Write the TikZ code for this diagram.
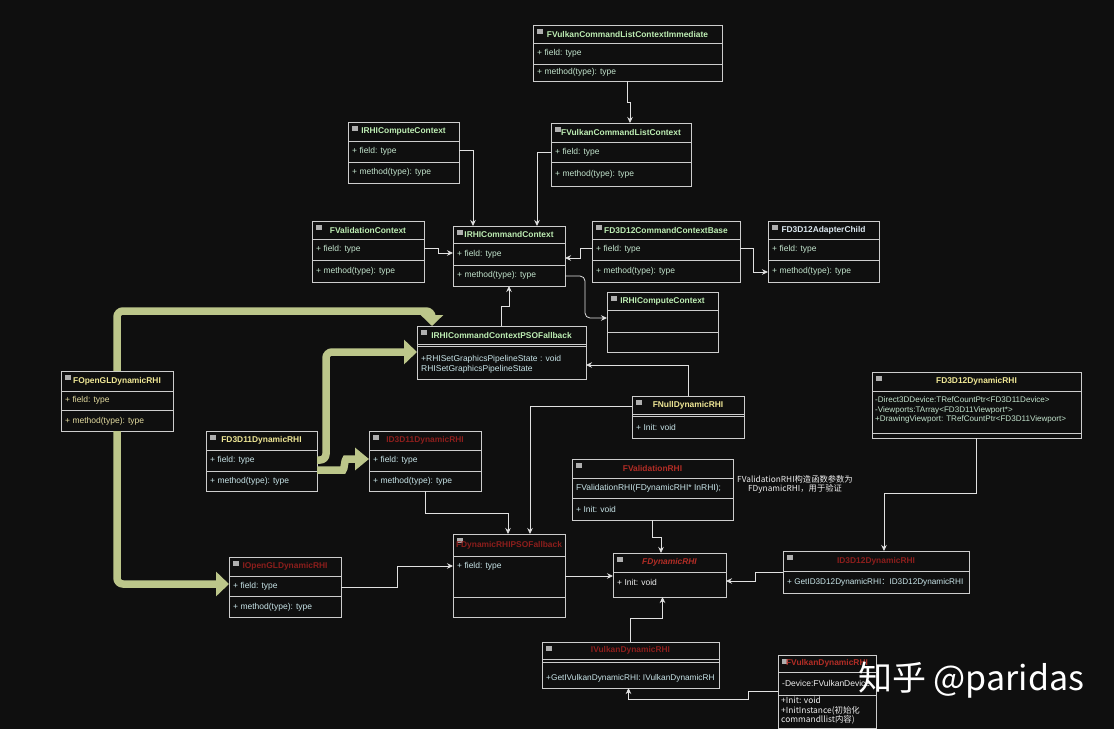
\documentclass[tikz,border=0pt]{standalone}
\usepackage{fontspec}
\setmainfont{Liberation Sans}
\newfontfamily\cjk{Noto Sans CJK SC}
\usetikzlibrary{arrows.meta,calc}
\definecolor{bg}{RGB}{15,15,15}
\definecolor{boxc}{RGB}{205,205,205}
\definecolor{iconc}{RGB}{175,175,175}
\definecolor{linec}{RGB}{225,225,225}
\definecolor{fatc}{RGB}{188,198,138}
\definecolor{gttl}{RGB}{190,238,180}
\definecolor{gtxt}{RGB}{195,228,205}
\definecolor{wttl}{RGB}{220,232,240}
\definecolor{yttl}{RGB}{240,232,150}
\definecolor{ytxt}{RGB}{228,220,160}
\definecolor{ctxt}{RGB}{200,228,232}
\definecolor{rttl}{RGB}{140,30,28}
\definecolor{rttlb}{RGB}{178,45,38}
\definecolor{wtxt}{RGB}{238,238,238}
\newcommand\ubox[5]{%
  \node[clsbox, minimum width=#4pt, minimum height=#5pt, anchor=north west] (#1) at (#2,#3) {};
  \fill[iconc] ($(#1.north west)+(4,3.5)$) rectangle ++(6,5.5);}
\newcommand\usep[2]{\draw[sepl] ($(#1.north west)+(0,#2)$) -- ($(#1.north east)+(0,#2)$);}
\newcommand\uttl[4]{\node[ttl, text=#3] (#1-t) at ($(#1.north)+(0,#2)$) {#4};}
\newcommand\utxt[5]{\node[txt, text=#4] (#1-#2) at ($(#1.north west)+(4,#3)$) {#5};}
\begin{document}
\begin{tikzpicture}[x=1pt,y=-1pt,
  clsbox/.style={draw=boxc, line width=0.9pt, inner sep=0pt, outer sep=0pt},
  sepl/.style={draw=boxc, line width=0.9pt},
  ttl/.style={font=\fontsize{8.4}{9.5}\selectfont\bfseries, inner sep=0pt},
  txt/.style={font=\fontsize{8.5}{10}\selectfont, inner sep=0pt, anchor=west, align=left},
  conn/.style={draw=linec, line width=0.8pt, -{Stealth[length=6pt,width=5.5pt]}},
  fat/.style={draw=fatc, line width=7.5pt, rounded corners=6pt}]
\useasboundingbox (0,0) rectangle (1114,729);
\fill[bg] (0,0) rectangle (1114,729);

% ---------- classes ----------
\ubox{vkimm}{533}{25}{189}{56}
\usep{vkimm}{18}\usep{vkimm}{39}
\uttl{vkimm}{9}{gttl}{FVulkanCommandListContextImmediate}
\utxt{vkimm}{a}{28.5}{gtxt}{+ field: type}
\utxt{vkimm}{b}{47.5}{gtxt}{+ method(type): type}

\ubox{vkctx}{551}{123}{140}{63}
\usep{vkctx}{19}\usep{vkctx}{39}
\uttl{vkctx}{9.5}{gttl}{FVulkanCommandListContext}
\utxt{vkctx}{a}{29}{gtxt}{+ field: type}
\utxt{vkctx}{b}{51}{gtxt}{+ method(type): type}

\ubox{ccA}{348}{122}{111}{61}
\usep{ccA}{19}\usep{ccA}{40}
\uttl{ccA}{9.5}{gttl}{IRHIComputeContext}
\utxt{ccA}{a}{29.5}{gtxt}{+ field: type}
\utxt{ccA}{b}{50.5}{gtxt}{+ method(type): type}

\ubox{valctx}{312}{221}{112}{61}
\usep{valctx}{18}\usep{valctx}{39}
\uttl{valctx}{9}{gttl}{FValidationContext}
\utxt{valctx}{a}{28.5}{gtxt}{+ field: type}
\utxt{valctx}{b}{50}{gtxt}{+ method(type): type}

\ubox{cmd}{453}{226}{112}{60}
\usep{cmd}{17}\usep{cmd}{39}
\uttl{cmd}{8.5}{gttl}{IRHICommandContext}
\utxt{cmd}{a}{28}{gtxt}{+ field: type}
\utxt{cmd}{b}{49.5}{gtxt}{+ method(type): type}

\ubox{dbase}{592}{221}{148}{61}
\usep{dbase}{18}\usep{dbase}{39}
\uttl{dbase}{9}{gttl}{FD3D12CommandContextBase}
\utxt{dbase}{a}{28.5}{gtxt}{+ field: type}
\utxt{dbase}{b}{50}{gtxt}{+ method(type): type}

\ubox{adapter}{768}{221}{111}{61}
\usep{adapter}{18}\usep{adapter}{39}
\uttl{adapter}{9}{wttl}{FD3D12AdapterChild}
\utxt{adapter}{a}{28.5}{gtxt}{+ field: type}
\utxt{adapter}{b}{50}{gtxt}{+ method(type): type}

\ubox{ccB}{607}{292}{111}{60}
\usep{ccB}{18}\usep{ccB}{40}
\uttl{ccB}{9}{gttl}{IRHIComputeContext}

\ubox{psofb}{417}{326}{169}{53}
\usep{psofb}{18}\usep{psofb}{20.5}
\uttl{psofb}{9}{gttl}{IRHICommandContextPSOFallback}
\utxt{psofb}{a}{38}{ctxt}{+RHISetGraphicsPipelineState : void\\RHISetGraphicsPipelineState}

\ubox{ogl}{61}{371}{112}{60}
\usep{ogl}{20}\usep{ogl}{39}
\uttl{ogl}{10}{yttl}{FOpenGLDynamicRHI}
\utxt{ogl}{a}{29.5}{ytxt}{+ field: type}
\utxt{ogl}{b}{50}{ytxt}{+ method(type): type}

\ubox{dxi}{206}{431}{111}{60}
\usep{dxi}{19}\usep{dxi}{40}
\uttl{dxi}{9.5}{yttl}{FD3D11DynamicRHI}
\utxt{dxi}{a}{29.5}{ctxt}{+ field: type}
\utxt{dxi}{b}{50}{ctxt}{+ method(type): type}

\ubox{idxi}{369}{431}{112}{60}
\usep{idxi}{19}\usep{idxi}{40}
\uttl{idxi}{9.5}{rttl}{ID3D11DynamicRHI}
\utxt{idxi}{a}{29.5}{ctxt}{+ field: type}
\utxt{idxi}{b}{50}{ctxt}{+ method(type): type}

\ubox{null}{632}{396}{112}{42}
\usep{null}{18}\usep{null}{20.5}
\uttl{null}{9}{yttl}{FNullDynamicRHI}
\utxt{null}{a}{31.5}{ctxt}{+ Init: void}

\ubox{dxii}{872}{372}{209}{66}
\usep{dxii}{19}\usep{dxii}{61}
\uttl{dxii}{9.5}{yttl}{FD3D12DynamicRHI}
\node[txt, text=gtxt, font=\fontsize{8.1}{9.8}\selectfont] (dxii-a) at ($(dxii.north west)+(3,38)$) {-Direct3DDevice:TRefCountPtr<FD3D11Device>\\-Viewports:TArray<FD3D11Viewport*>\\+DrawingViewport: TRefCountPtr<FD3D11Viewport>};

\ubox{valrhi}{572}{459}{161}{61}
\usep{valrhi}{19}\usep{valrhi}{39}
\uttl{valrhi}{9.5}{rttlb}{FValidationRHI}
\utxt{valrhi}{a}{29}{ctxt}{FValidationRHI(FDynamicRHI* InRHI);}
\utxt{valrhi}{b}{50}{ctxt}{+ Init: void}

\ubox{dynpso}{453}{534}{112}{83}
\usep{dynpso}{22}\usep{dynpso}{63}
\uttl{dynpso}{11}{rttl}{FDynamicRHIPSOFallback}
\utxt{dynpso}{a}{32}{ctxt}{+ field: type}

\ubox{iogl}{229}{557}{112}{60}
\usep{iogl}{19}\usep{iogl}{39}
\uttl{iogl}{9.5}{rttl}{IOpenGLDynamicRHI}
\utxt{iogl}{a}{29.5}{ctxt}{+ field: type}
\utxt{iogl}{b}{50}{ctxt}{+ method(type): type}

\ubox{dyn}{613}{553}{113}{44}
\usep{dyn}{19}
\node[ttl, text=rttlb, font=\fontsize{8.4}{9.5}\selectfont\bfseries\itshape] (dyn-t) at ($(dyn.north)+(0,9.5)$) {FDynamicRHI};
\utxt{dyn}{a}{29}{wtxt}{+ Init: void}

\ubox{idxii}{783}{551}{186}{42}
\usep{idxii}{20}
\uttl{idxii}{10}{rttl}{ID3D12DynamicRHI}
\node[txt, text=ctxt, font=\fontsize{8.2}{10}\selectfont] (idxii-a) at ($(idxii.north west)+(4,31)$) {+ GetID3D12DynamicRHI{\cjk ：}ID3D12DynamicRHI};

\ubox{ivk}{542}{642}{177}{46}
\usep{ivk}{17}\usep{ivk}{20}
\uttl{ivk}{8.5}{rttl}{IVulkanDynamicRHI}
\node[txt, text=ctxt, font=\fontsize{8.3}{10}\selectfont] (ivk-a) at ($(ivk.north west)+(4,36)$) {+GetIVulkanDynamicRHI: IVulkanDynamicRH};

\ubox{fvk}{778}{655}{98}{73}
\usep{fvk}{17}\usep{fvk}{40}
\uttl{fvk}{8.5}{rttlb}{FVulkanDynamicRHI}
\utxt{fvk}{a}{28}{wtxt}{-Device:FVulkanDevice}
\node[txt, text=wtxt, font=\cjk\fontsize{8.4}{9.2}\selectfont] (fvk-b) at ($(fvk.north west)+(3,55.5)$) {+Init: void\\+InitInstance(初始化\\commandllist内容)};

% ---------- note ----------
\node[font=\cjk\fontsize{8.3}{9.8}\selectfont, text=wtxt, align=center, inner sep=0pt] (note) at (795,484.5) {FValidationRHI构造函数参数为\\FDynamicRHI，用于验证};

% ---------- thin connectors ----------
\draw[conn] (vkimm.south) |- ($(vkctx.north)+(9,-21)$) -- ($(vkctx.north)+(9,0)$);
\draw[conn] ($(vkctx.north west)+(0,29)$) -| ($(cmd.north)+(28,0)$);
\draw[conn] ($(ccA.north east)+(0,28)$) -| ($(cmd.north)+(-36,0)$);
\draw[conn] ($(valctx.north east)+(0,27)$) -- ++(14,0) |- ($(cmd.north west)+(0,27)$);
\draw[conn] ($(dbase.north west)+(0,27)$) -- ++(-12,0) |- ($(cmd.north east)+(0,32)$);
\draw[conn] ($(dbase.north east)+(0,27)$) -- ++(13,0) |- ($(adapter.north west)+(0,51)$);
\draw[conn, rounded corners=5pt] ($(cmd.north east)+(0,50)$) -- ++(20,0) |- ($(ccB.north west)+(0,26)$);
\draw[conn] (psofb.north) -- ++(0,-20) -| (cmd.south);
\draw[conn] (null.north) |- ($(psofb.north east)+(0,39)$);
\draw[conn] ($(null.north west)+(0,10)$) -| ($(dynpso.north)+(21,0)$);
\draw[conn] (idxi.south) -- ++(0,22) -| ($(dynpso.north)+(-1,0)$);
\draw[conn] ($(iogl.north east)+(0,30)$) -- ++(56,0) |- ($(dynpso.north west)+(0,32)$);
\draw[conn] ($(dynpso.north east)+(0,42)$) -- ($(dyn.north west)+(0,23)$);
\draw[conn] (valrhi.south) -- ++(0,17) -| ($(dyn.north)+(-8.5,0)$);
\draw[conn] ($(idxii.north west)+(0,21)$) -- ++(-28,0) |- ($(dyn.north east)+(0,28)$);
\draw[conn] (ivk.north) -- ++(0,-24) -| ($(dyn.south)+(-7,0)$);
\draw[conn] ($(fvk.north west)+(0,36)$) -- ++(-30,0) -- ++(0,8) -| ($(ivk.south)+(-2,0)$);
\draw[conn] (dxii.south) -- ++(0,55) -| ($(idxii.north)+(8,0)$);

% ---------- thick connectors ----------
\draw[fat, -{Triangle[width=22pt,length=11pt]}] (ogl.north) |- ($(psofb.north west)+(15,-15)$) -- ($(psofb.north west)+(15,0)$);
\draw[fat, -{Triangle[width=24pt,length=13pt]}] (ogl.south) |- ($(iogl.north west)+(0,27)$);
\draw[fat, -{Triangle[width=24pt,length=13pt]}] ($(dxi.north east)+(0,29)$) -- ++(9,0) |- ($(psofb.north west)+(0,26)$);
\draw[fat, -{Triangle[width=22pt,length=14pt]}] ($(dxi.north east)+(0,39)$) -- ++(20,0) to[out=0,in=180] ($(idxi.north west)+(-17,28)$) -- ($(idxi.north west)+(0,28)$);

% ---------- watermark ----------
\node[anchor=base west, text=white, font=\cjk\fontsize{34}{34}\selectfont, inner sep=0pt] (wm) at (858,690) {知乎 @paridas};
\end{tikzpicture}
\end{document}
